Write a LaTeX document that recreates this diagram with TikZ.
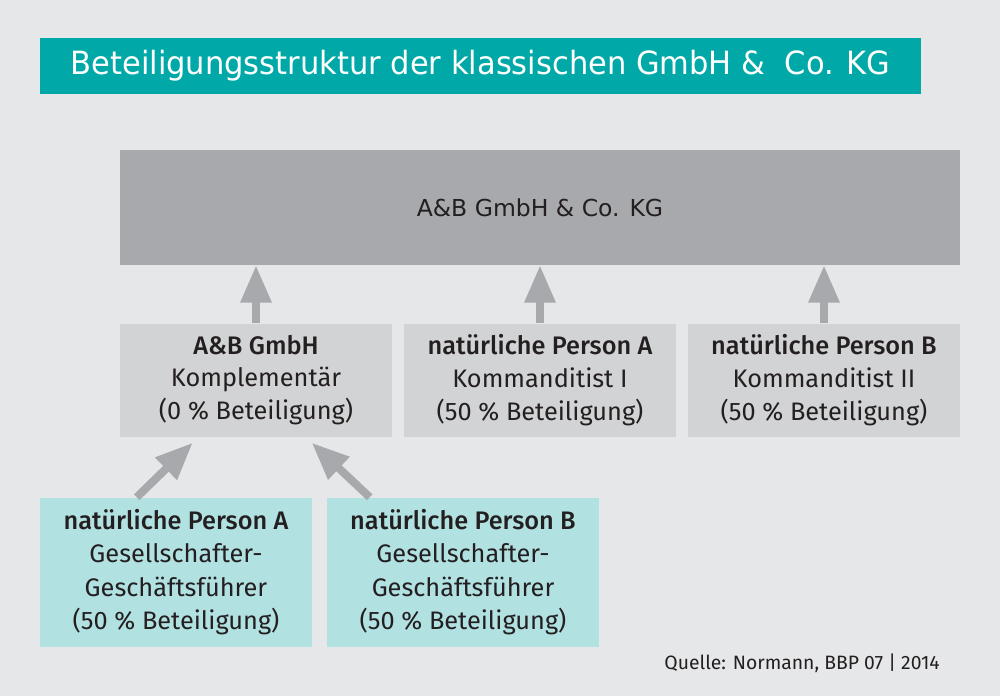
\documentclass[tikz,border=0pt]{standalone}
\usepackage{fontspec}
\setmainfont{Fira Sans}[BoldFont={Fira Sans Medium}]
\newfontfamily\condfont{DejaVu Sans Condensed}
\usetikzlibrary{arrows.meta,calc}
\definecolor{bgc}{HTML}{E6E7E8}
\definecolor{teal1}{HTML}{00A9A8}
\definecolor{gray1}{HTML}{A7A9AC}
\definecolor{gray2}{HTML}{D1D3D4}
\definecolor{lteal}{HTML}{B2E1E2}
\definecolor{txt}{HTML}{231F20}
\tikzset{
  midbox/.style={fill=gray2, minimum width=204pt, minimum height=84.75pt, inner sep=0pt, align=center, text=txt, font=\fontsize{19}{24.5}\selectfont},
  botbox/.style={fill=lteal, minimum width=204pt, minimum height=111.75pt, inner sep=0pt, align=center, text=txt, font=\fontsize{19}{25}\selectfont},
  uparrow/.style={draw=gray1, line width=6pt, -{Triangle[length=28pt, width=22pt]}, shorten >=0pt},
}
\begin{document}
\begin{tikzpicture}[x=0.75pt, y=-0.75pt]
\fill[bgc] (0,0) rectangle (1000,696);
\useasboundingbox (0,0) rectangle (1000,696);
\node[fill=teal1, minimum width=660.75pt, minimum height=42pt, inner sep=0pt, text=white, font=\condfont\fontsize{24}{28}\selectfont] (title) at (480.5,66) {\scalebox{1.06}[1]{Beteiligungsstruktur der klassischen GmbH \&\ \ Co. KG}};
\node[fill=gray1, minimum width=630pt, minimum height=86.25pt, inner sep=0pt, text=txt, font=\condfont\fontsize{17.5}{20}\selectfont] (top) at (540,207.5) {\scalebox{1.12}[1]{A\&B GmbH \& Co. KG}};
\node[midbox] (m1) at (256,380) {\textbf{A\&B GmbH}\\Komplementär\\(0 \% Beteiligung)};
\node[midbox] (m2) at (540,380) {\textbf{natürliche Person A}\\Kommanditist I\\(50 \% Beteiligung)};
\node[midbox] (m3) at (824,380) {\textbf{natürliche Person B}\\Kommanditist II\\(50 \% Beteiligung)};
\node[botbox] (b1) at (176,572) {\textbf{natürliche Person A}\\Gesellschafter-\\Geschäftsführer\\(50 \% Beteiligung)};
\node[botbox] (b2) at (463,572) {\textbf{natürliche Person B}\\Gesellschafter-\\Geschäftsführer\\(50 \% Beteiligung)};
\node[anchor=east, text=txt, inner sep=0pt, font=\fontsize{14.5}{17}\selectfont] (src) at (940,663) {Quelle: Normann, BBP 07 | 2014};
\draw[uparrow] (m1.north) -- (m1.north |- top.south);
\draw[uparrow] (m2.north) -- (m2.north |- top.south);
\draw[uparrow] (m3.north) -- (m3.north |- top.south);
\draw[uparrow] ($(b1.north west)+(97,0)$) -- ($(m1.south west)+(73,6)$);
\draw[uparrow] ($(b2.north west)+(43,0)$) -- ($(m1.south west)+(192,6)$);
\end{tikzpicture}
\end{document}
